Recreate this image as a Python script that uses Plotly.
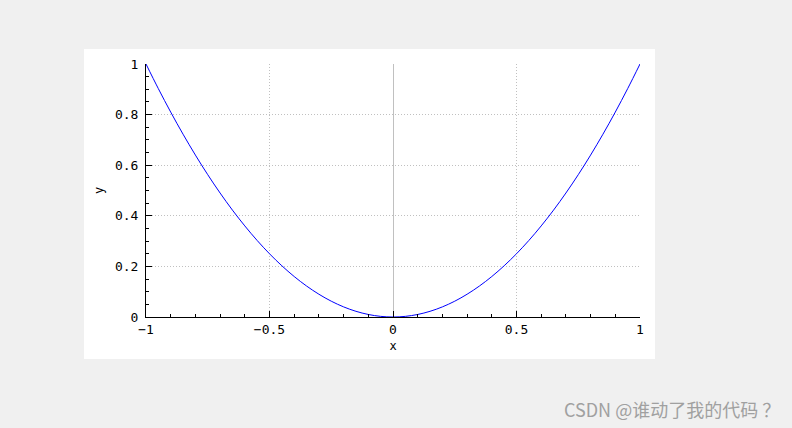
import plotly.graph_objects as go

# Curve values (x from -1 to 1 in steps of 0.05)
x_vals = [-1.0, -0.95, -0.9, -0.85, -0.8, -0.75, -0.7, -0.65, -0.6, -0.55, -0.5,
          -0.45, -0.4, -0.35, -0.3, -0.25, -0.2, -0.15, -0.1, -0.05, 0.0,
          0.05, 0.1, 0.15, 0.2, 0.25, 0.3, 0.35, 0.4, 0.45, 0.5,
          0.55, 0.6, 0.65, 0.7, 0.75, 0.8, 0.85, 0.9, 0.95, 1.0]
y_vals = [1.0, 0.9025, 0.81, 0.7225, 0.64, 0.5625, 0.49, 0.4225, 0.36, 0.3025, 0.25,
          0.2025, 0.16, 0.1225, 0.09, 0.0625, 0.04, 0.0225, 0.01, 0.0025, 0.0,
          0.0025, 0.01, 0.0225, 0.04, 0.0625, 0.09, 0.1225, 0.16, 0.2025, 0.25,
          0.3025, 0.36, 0.4225, 0.49, 0.5625, 0.64, 0.7225, 0.81, 0.9025, 1.0]

x_ticks = [-1, -0.5, 0, 0.5, 1]
x_tick_labels = ["−1", "−0.5", "0", "0.5", "1"]
y_ticks = [0, 0.2, 0.4, 0.6, 0.8, 1]
y_tick_labels = ["0", "0.2", "0.4", "0.6", "0.8", "1"]

mono = "DejaVu Sans Mono"

fig = go.Figure()
fig.add_trace(go.Scatter(x=x_vals, y=y_vals, mode="lines",
                         line=dict(color="#0000ff", width=1, shape="spline"),
                         hoverinfo="skip", showlegend=False))

# white panel behind the plot
fig.add_shape(type="rect", xref="paper", yref="paper",
              x0=-0.1255, x1=1.0304, y0=-0.166, y1=1.0593,
              fillcolor="white", line=dict(width=0), layer="below")

axis_common = dict(
    showline=True, linecolor="black", linewidth=1,
    ticks="inside", ticklen=6, tickcolor="black", tickwidth=1,
    showgrid=True, gridcolor="#c0c0c0", griddash="1px,2px", gridwidth=1,
    tickfont=dict(family=mono, size=13, color="black"),
)

fig.update_xaxes(range=[-1, 1], tickvals=x_ticks, ticktext=x_tick_labels,
                 zeroline=True, zerolinecolor="#c0c0c0", zerolinewidth=1,
                 minor=dict(ticks="inside", dtick=0.1, ticklen=3, tickcolor="black", showgrid=False),
                 title=dict(text="x", font=dict(family=mono, size=12, color="black"), standoff=6),
                 **axis_common)
fig.update_yaxes(range=[0, 1], tickvals=y_ticks, ticktext=y_tick_labels,
                 zeroline=False, ticklabelstandoff=4,
                 minor=dict(ticks="inside", dtick=0.05, ticklen=3, tickcolor="black", showgrid=False),
                 title=dict(text="y", font=dict(family=mono, size=12, color="black"), standoff=8),
                 **axis_common)

fig.add_annotation(text="CSDN @谁动了我的代码 ？", xref="paper", yref="paper",
                   x=(782 - 146) / 494, y=(317 - 409) / 253, xanchor="right", yanchor="middle",
                   showarrow=False,
                   font=dict(family="Noto Sans CJK SC", size=18, color="#a0a0a0"))

fig.update_layout(
    width=792, height=428,
    margin=dict(l=146, r=152, t=64, b=111),
    paper_bgcolor="#f0f0f0", plot_bgcolor="white",
)

fig.write_html("out.html", config={"displayModeBar": False},
               post_script="document.body.style.margin='0';document.body.style.padding='0';")
